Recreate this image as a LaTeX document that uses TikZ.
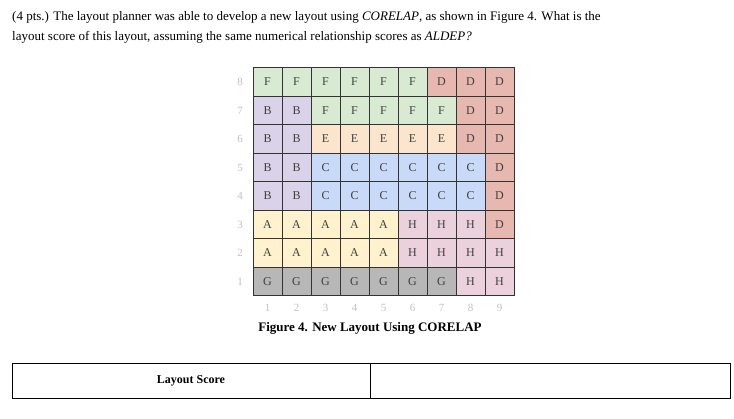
\documentclass[tikz,border=0pt]{standalone}
\usepackage{fontspec}
\setmainfont{Liberation Serif}
\definecolor{cF}{HTML}{D9EAD3}\definecolor{cD}{HTML}{E6B8AF}\definecolor{cB}{HTML}{D9D2E9}
\definecolor{cE}{HTML}{FCE5CD}\definecolor{cC}{HTML}{C9DAF8}\definecolor{cA}{HTML}{FFF2CC}
\definecolor{cH}{HTML}{EAD1DC}\definecolor{cG}{HTML}{B7B7B7}
\begin{document}
\begin{tikzpicture}[x=1pt,y=-1pt,
  cell/.style={draw=black!80,line width=1pt,minimum width=29pt,minimum height=28.5pt,inner sep=0,font=\fontsize{12}{12}\selectfont,text=black!75},
  lab/.style={font=\fontsize{11}{11}\selectfont,text=black!25},
  txt/.style={font=\fontsize{13}{15}\selectfont,anchor=west,inner sep=0}]
\useasboundingbox (0,0) rectangle (734,418);
\node[txt] (l1) at (12,17) {(4 pts.) The layout planner was able to develop a new layout using \textit{CORELAP}, as shown in Figure 4. What is the};
\node[txt] (l2) at (12,37) {layout score of this layout, assuming the same numerical relationship scores as \textit{ALDEP?}};
\foreach \row [count=\r from 0] in {{F,F,F,F,F,F,D,D,D},{B,B,F,F,F,F,F,D,D},{B,B,E,E,E,E,E,D,D},{B,B,C,C,C,C,C,C,D},{B,B,C,C,C,C,C,C,D},{A,A,A,A,A,H,H,H,D},{A,A,A,A,A,H,H,H,H},{G,G,G,G,G,G,G,H,H}}{
  \pgfmathtruncatemacro\rl{8-\r}
  \node[lab] (r\rl) at (240,{82+28.5*\r}) {\rl};
  \foreach \ch [count=\c from 0] in \row {
    \node[cell,fill=c\ch] (g\r\c) at ({267.5+29*\c},{82+28.5*\r}) {\ch};
  }}
\foreach \c in {1,...,9}{\node[lab] (c\c) at ({238.5+29*\c},308) {\c};}
\node[font=\bfseries\fontsize{13}{13}\selectfont] (cap) at (370,328) {Figure 4. New Layout Using CORELAP};
\draw[line width=1pt] (12,363) rectangle (730,398);
\draw[line width=1pt] (370,363) -- (370,398);
\node[font=\bfseries\fontsize{12}{12}\selectfont] (ls) at (191,381) {Layout Score};
\end{tikzpicture}
\end{document}
